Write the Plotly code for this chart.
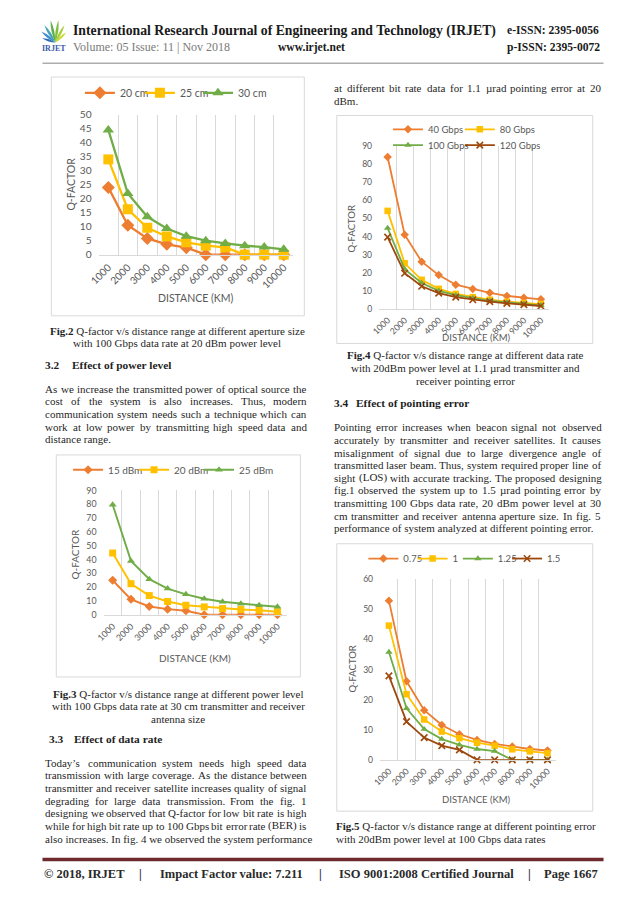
import math
import plotly.graph_objects as go

W, H = 638, 902


def X(p):
    return p / W


def Y(p):
    return 1 - p / H


# ---------------- data ----------------
distance_km = ["1000", "2000", "3000", "4000", "5000", "6000", "7000", "8000", "9000", "10000"]

aperture_labels = ["20 cm", "25 cm", "30 cm"]
q_aperture_20cm = [24.0, 10.5, 5.8, 3.7, 2.5, 0, 0, 0, 0, 0]
q_aperture_25cm = [34.0, 16.2, 9.6, 6.5, 4.4, 3.2, 2.6, 0, 0, 0]
q_aperture_30cm = [44.5, 21.8, 13.5, 9.3, 6.6, 5.0, 4.0, 3.2, 2.7, 1.9]

power_labels = ["15 dBm", "20 dBm", "25 dBm"]
q_power_15dbm = [25.0, 11.2, 6.0, 4.1, 2.9, 0, 0, 0, 0, 0]
q_power_20dbm = [44.7, 22.5, 13.9, 9.6, 6.9, 5.7, 4.5, 3.8, 3.3, 2.2]
q_power_25dbm = [79.7, 39.0, 25.8, 19.0, 14.8, 11.6, 9.4, 8.0, 6.9, 5.8]

rate_labels = ["40 Gbps", "80 Gbps", "100 Gbps", "120 Gbps"]
q_rate_40g = [84.0, 41.0, 26.1, 18.7, 13.4, 11.0, 8.9, 7.2, 6.2, 5.3]
q_rate_80g = [54.2, 25.2, 16.1, 11.1, 8.3, 6.5, 5.1, 4.0, 3.3, 2.7]
q_rate_100g = [44.7, 22.0, 14.3, 10.0, 7.6, 6.0, 4.5, 3.6, 2.9, 2.0]
q_rate_120g = [39.7, 19.7, 12.5, 8.7, 6.5, 5.1, 4.0, 3.1, 2.4, 1.6]

pointing_labels = ["0.75", "1", "1.25", "1.5"]
q_point_075 = [52.9, 26.1, 16.5, 11.6, 8.5, 6.6, 5.3, 4.4, 3.6, 3.1]
q_point_100 = [44.6, 21.8, 13.4, 9.4, 7.2, 5.7, 4.7, 3.5, 2.8, 2.2]
q_point_125 = [35.8, 17.1, 10.2, 6.9, 5.0, 3.6, 2.9, 0, 0, 0]
q_point_150 = [27.9, 12.7, 7.4, 4.7, 3.3, 0, 0, 0, 0, 0]

# ---------------- styles ----------------
SERIF = "Liberation Serif"
SANS = "Lato"
GREY = "#595959"
INK = "#1F1F1F"
GRID = "#D9D9D9"
COLORS = ["#ED7D31", "#FFC000", "#70AD47", "#9E480E"]
SYMBOLS = ["diamond", "square", "triangle-up", "x-thin"]

charts = [
    dict(n=1, box=(42, 72, 299, 314), px=(90, 288), y0=252, y1=110, ymax=50, dtick=5,
         names=aperture_labels, vals=[q_aperture_20cm, q_aperture_25cm, q_aperture_30cm],
         leg=[(113, 88), (174, 88), (233, 88)], ytitle=(62, 181), xtitle=(188, 296),
         tsize=10.2, msize=10, lw=2.3, fsize=10.5),
    dict(n=2, box=(47, 455, 295, 680), px=(95, 281), y0=617, y1=491, ymax=90, dtick=10,
         names=power_labels, vals=[q_power_15dbm, q_power_20dbm, q_power_25dbm],
         leg=[(101, 470), (168, 470), (234, 470)], ytitle=(66, 555), xtitle=(188, 661),
         tsize=8.8, msize=7, lw=1.9, fsize=10),
    dict(n=3, box=(332, 111, 592, 342), px=(375, 548), y0=307, y1=142, ymax=90, dtick=10,
         names=rate_labels, vals=[q_rate_40g, q_rate_80g, q_rate_100g, q_rate_120g],
         leg=[(426, 125), (499, 125), (426, 141), (499, 141)], ytitle=(347, 226),
         xtitle=(474, 336), tsize=8.6, msize=6.5, lw=1.8, fsize=9.5),
    dict(n=4, box=(332, 545, 592, 816), px=(376, 555), y0=764, y1=581, ymax=60, dtick=10,
         names=pointing_labels, vals=[q_point_075, q_point_100, q_point_125, q_point_150],
         leg=[(401, 560), (451, 560), (497, 560), (547, 560)], ytitle=(348, 672),
         xtitle=(474, 804), tsize=8.6, msize=6.5, lw=1.8, fsize=9.5),
]

LEG_TEXT_OFFSET = 42

fig = go.Figure()
layout = dict(width=W, height=H, margin=dict(l=0, r=0, t=0, b=0), autosize=False,
              paper_bgcolor="white", plot_bgcolor="rgba(0,0,0,0)", showlegend=True)
shapes = []
anns = []
leg_count = 0

for c in charts:
    sfx = "" if c["n"] == 1 else str(c["n"])
    for i, (name, vals) in enumerate(zip(c["names"], c["vals"])):
        leg_count += 1
        lid = "legend" if leg_count == 1 else "legend%d" % leg_count
        col = COLORS[i]
        if SYMBOLS[i] == "x-thin":
            marker = dict(symbol="x-thin", size=c["msize"], color=col, line=dict(width=1.6, color=col))
        else:
            marker = dict(symbol=SYMBOLS[i], size=c["msize"], color=col, line=dict(width=0))
        fig.add_trace(go.Scatter(
            x=distance_km, y=vals, name=name, mode="lines+markers",
            line=dict(color=col, width=c["lw"]), marker=marker,
            xaxis="x" + sfx, yaxis="y" + sfx, legend=lid, cliponaxis=False,
            hoverinfo="skip"))
        lx, ly = c["leg"][i]
        layout[lid] = dict(orientation="h", x=X(lx - LEG_TEXT_OFFSET), y=Y(ly), xanchor="left",
                           yanchor="middle", font=dict(family=SANS, size=c["fsize"], color=GREY),
                           bgcolor="rgba(0,0,0,0)", itemwidth=30, borderwidth=0)
    layout["xaxis" + sfx] = dict(
        domain=[X(c["px"][0]), X(c["px"][1])], anchor="y" + sfx, type="category",
        range=[-0.5, 9.5], tickson="boundaries", showgrid=True, gridcolor=GRID, gridwidth=1,
        showline=True, linecolor=GRID, linewidth=1, ticks="", tickangle=-45, zeroline=False,
        tickfont=dict(family=SANS, size=c["tsize"], color=GREY), fixedrange=True,
        ticklabelstandoff=2)
    layout["yaxis" + sfx] = dict(
        domain=[Y(c["y0"]), Y(c["y1"])], anchor="x" + sfx, range=[0, c["ymax"]],
        dtick=c["dtick"], showgrid=False, zeroline=False, showline=False, ticks="",
        tickfont=dict(family=SANS, size=c["tsize"], color=GREY), fixedrange=True,
        ticklabelstandoff=6)
    bx0, by0, bx1, by1 = c["box"]
    shapes.append(dict(type="rect", xref="paper", yref="paper", x0=X(bx0), x1=X(bx1),
                       y0=Y(by1), y1=Y(by0), line=dict(color=GRID, width=1), layer="below"))
    anns.append(dict(x=X(c["ytitle"][0]), y=Y(c["ytitle"][1]), text="Q-FACTOR", textangle=-90,
                     font=dict(family=SANS, size=c["fsize"], color=GREY)))
    anns.append(dict(x=X(c["xtitle"][0]), y=Y(c["xtitle"][1]), text="DISTANCE (KM)",
                     font=dict(family=SANS, size=c["fsize"], color=GREY)))

# ---------------- page text ----------------
TIMES = {" ": 250, "!": 333, "'": 180, "’": 333, "(": 333, ")": 333, ",": 250, "-": 333, ".": 250,
         "/": 278, ":": 278, ";": 278, "|": 200, "©": 760, "µ": 500,
         "A": 722, "B": 667, "C": 667, "D": 722, "E": 611, "F": 556, "G": 722, "H": 722, "I": 333,
         "J": 389, "K": 722, "L": 611, "M": 889, "N": 722, "O": 722, "P": 556, "Q": 722, "R": 667,
         "S": 556, "T": 611, "U": 722, "V": 722, "W": 944, "X": 722, "Y": 722, "Z": 611,
         "a": 444, "b": 500, "c": 444, "d": 500, "e": 444, "f": 333, "g": 500, "h": 500, "i": 278,
         "j": 278, "k": 500, "l": 278, "m": 778, "n": 500, "o": 500, "p": 500, "q": 500, "r": 333,
         "s": 389, "t": 278, "u": 500, "v": 500, "w": 722, "x": 500, "y": 500, "z": 444}

BODY = 11.0


def tw(s, size, bold=False):
    return sum(TIMES.get(ch, 500) for ch in s) * size / 1000 * (1.07 if bold else 1.0)


def text(x, y, s, size=BODY, anchor="left", color=INK, family=SERIF):
    anns.append(dict(x=X(x), y=Y(y), text=s, xanchor=anchor,
                     font=dict(family=family, size=size, color=color)))


def para(lines, x0, x1, y0, dy, size=BODY):
    for k, line in enumerate(lines):
        y = y0 + k * dy
        words = line.split(" ")
        if k == len(lines) - 1 or len(words) == 1:
            text(x0, y, line, size)
            continue
        widths = [tw(w, size) for w in words]
        gap = (x1 - x0 - sum(widths)) / (len(words) - 1)
        x = x0
        for w, ww in zip(words, widths):
            text(x, y, w, size)
            x += ww + gap


LS = 12.8  # line spacing

# header
title = "International Research Journal of Engineering and Technology (IRJET)"
text(63, 25, "<b>" + title + "</b>", size=422 / tw(title, 1, True), color="#1A1A1A")
text(504, 25, "<b>e-ISSN: 2395-0056</b>", size=11.6, color="#1A1A1A")
text(63, 42, "Volume: 05 Issue: 11 | Nov 2018", size=12, color="#7A7A7A")
text(271, 42, "<b>www.irjet.net</b>", size=11.6, color="#1A1A1A")
text(504, 42, "<b>p-ISSN: 2395-0072</b>", size=11.6, color="#1A1A1A")
text(45, 43, "<b>IRJET</b>", size=8, anchor="center", color="#3B5BA5")
shapes.append(dict(type="line", xref="paper", yref="paper", x0=X(33), x1=X(603), y0=Y(58), y1=Y(58),
                   line=dict(color="#ADADAD", width=1.5)))

# logo leaves
base = (46, 37)
leaves = [(-72, 14, 2.2, "#2F6EB5"), (-52, 18, 2.5, "#3C8DC9"), (-32, 21, 2.7, "#45A3B8"),
          (-12, 23, 2.7, "#5DB04A"), (8, 23, 2.7, "#7DBE3C"), (28, 20, 2.5, "#A6CE39"),
          (48, 15, 2.2, "#C8DA2B")]
for ang, ln, hw, colr in leaves:
    a = math.radians(ang)
    tx, ty = base[0] + ln * math.sin(a), base[1] - ln * math.cos(a)
    mx, my = (base[0] + tx) / 2, (base[1] + ty) / 2
    nx, ny = math.cos(a) * hw, math.sin(a) * hw
    pts = [(base[0], base[1]), (mx + nx, my + ny), (tx, ty), (mx - nx, my - ny)]
    p = "M {:.5f},{:.5f} Q {:.5f},{:.5f} {:.5f},{:.5f} Q {:.5f},{:.5f} {:.5f},{:.5f} Z".format(
        X(pts[0][0]), Y(pts[0][1]), X(pts[1][0]), Y(pts[1][1]), X(pts[2][0]), Y(pts[2][1]),
        X(pts[3][0]), Y(pts[3][1]), X(pts[0][0]), Y(pts[0][1]))
    shapes.append(dict(type="path", xref="paper", yref="paper", path=p, fillcolor=colr,
                       line=dict(width=0)))

# left column
LX0, LX1 = 35, 300
text(170, 329, "<b>Fig.2</b> Q-factor v/s distance range at different aperture size", anchor="center")
text(170, 329 + LS, "with 100 Gbps data rate at 20 dBm power level", anchor="center")
text(35, 364, "<b>3.2</b>", size=11.4)
text(62, 364, "<b>Effect of power level</b>", size=11.4)
para(["As we increase the transmitted power of optical source the",
      "cost of the system is also increases. Thus, modern",
      "communication system needs such a technique which can",
      "work at low power by transmitting high speed data and",
      "distance range."], LX0, LX1, 388, LS)

P33 = 767
text(171, 697, "<b>Fig.3</b> Q-factor v/s distance range at different power level", anchor="center")
text(171, 697 + LS, "with 100 Gbps data rate at 30 cm transmitter and receiver", anchor="center")
text(171, 697 + 2 * LS, "antenna size", anchor="center")
text(39, 743, "<b>3.3</b>", size=11.4)
text(64, 743, "<b>Effect of data rate</b>", size=11.4)
para(["Today’s communication system needs high speed data",
      "transmission with large coverage. As the distance between",
      "transmitter and receiver satellite increases quality of signal",
      "degrading for large data transmission. From the fig. 1",
      "designing we observed that Q-factor for low bit rate is high",
      "while for high bit rate up to 100 Gbps bit error rate (BER) is",
      "also increases. In fig. 4 we observed the system performance"], LX0, LX1, P33, LS)

# right column
RX0, RX1 = 328, 599
para(["at different bit rate data for 1.1 µrad pointing error at 20", "dBm."], RX0, RX1, 83, LS)
text(463, 354, "<b>Fig.4</b> Q-factor v/s distance range at different data rate", anchor="center")
text(463, 354 + LS, "with 20dBm power level at 1.1 µrad transmitter and", anchor="center")
text(463, 354 + 2 * LS, "receiver pointing error", anchor="center")
text(328, 402, "<b>3.4</b>", size=11.4)
text(350, 402, "<b>Effect of pointing error</b>", size=11.4)
para(["Pointing error increases when beacon signal not observed",
      "accurately by transmitter and receiver satellites. It causes",
      "misalignment of signal due to large divergence angle of",
      "transmitted laser beam. Thus, system required proper line of",
      "sight (LOS) with accurate tracking. The proposed designing",
      "fig.1 observed the system up to 1.5 µrad pointing error by",
      "transmitting 100 Gbps data rate, 20 dBm power level at 30",
      "cm transmitter and receiver antenna aperture size. In fig. 5",
      "performance of system analyzed at different pointing error."], RX0, RX1, 427, LS)
text(330, P33 + 5 * LS, "<b>Fig.5</b> Q-factor v/s distance range at different pointing error")
text(330, P33 + 6 * LS, "with 20dBm power level at 100 Gbps data rates")

# footer
shapes.append(dict(type="line", xref="paper", yref="paper", x0=X(33), x1=X(603), y0=Y(865), y1=Y(865),
                   line=dict(color="#6E2A2C", width=3.5)))
for fx, s in [(34, "© 2018, IRJET"), (130, "|"), (151, "Impact Factor value: 7.211"), (313, "|"),
              (333, "ISO 9001:2008 Certified Journal"), (525, "|"), (541, "Page 1667")]:
    text(fx, 880, "<b>" + s + "</b>", size=12.5, color="#2A2A2A")

for a in anns:
    a.setdefault("xref", "paper")
    a.setdefault("yref", "paper")
    a.setdefault("showarrow", False)
    a.setdefault("yanchor", "middle")
    a.setdefault("xanchor", "center")
    a.setdefault("borderpad", 0)

layout["shapes"] = shapes
layout["annotations"] = anns
fig.update_layout(**layout)

fig.write_html("out.html", config={"displayModeBar": False},
               post_script="document.body.style.margin='0';document.body.style.padding='0';")
